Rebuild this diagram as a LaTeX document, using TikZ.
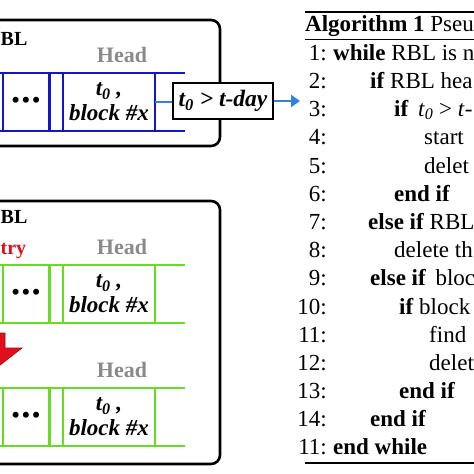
\documentclass[tikz,border=0pt]{standalone}
\usepackage{fontspec}
\setmainfont{Liberation Serif}
\usetikzlibrary{arrows.meta}
\definecolor{qblue}{HTML}{1414C8}
\definecolor{qgreen}{HTML}{66DD22}
\definecolor{qgray}{HTML}{8A8A8A}
\definecolor{qred}{HTML}{E0101A}
\definecolor{abluel}{HTML}{3380E0}
\newcommand\algf{\fontsize{23}{26}\selectfont}
\newcommand\qrow[3]{%
  \begin{scope}[shift={(0,#2)}]
    \draw[line width=2.6pt,draw=#1] (-10,0) -- (185,0) (-10,58) -- (185,58);
    \draw[line width=2.6pt,draw=#1] (3,0)--(3,58) (49.5,0)--(49.5,58) (63,0)--(63,58) (155,0)--(155,58);
    \node[dotsn] (#3d) at (26,29) {•\hspace{2.5pt}•\hspace{2.5pt}•};
    \node[cellt] (#3t) at (109,29) {t\textsubscript{0} ,\\block \#x};
    \node[headt] (#3h) at (122,-18) {Head};
    \coordinate (#3r) at (155,29);
  \end{scope}}
\tikzset{
  panel/.style={draw=black,line width=2.6pt,rounded corners=9pt},
  dotsn/.style={inner sep=0pt,font=\fontsize{22}{22}\selectfont\bfseries},
  cellt/.style={inner sep=0pt,align=center,font=\fontsize{23}{25}\selectfont\bfseries\itshape},
  headt/.style={inner sep=0pt,text=qgray,font=\fontsize{22}{24}\selectfont\bfseries},
  lbl/.style={inner sep=0pt,anchor=west,font=\fontsize{20}{22}\selectfont\bfseries},
  alg/.style={anchor=base west,inner sep=0pt,font=\algf},
  num/.style={anchor=base east,inner sep=0pt,font=\algf},
  conn/.style={draw=abluel,line width=2pt},
  barrow/.style={draw=abluel,line width=2.6pt,-{Triangle[length=9pt,width=12pt]}},
}
\begin{document}
\begin{tikzpicture}[x=1pt,y=-1pt]
\useasboundingbox (0,0) rectangle (474,474);
\clip (0,0) rectangle (474,474);
% panels
\draw[panel] (-20,20) rectangle (220,146);
\draw[panel] (-20,201) rectangle (220,464);
\node[lbl] (rbl1) at (0.5,39) {BL};
\node[lbl] (rbl2) at (0.5,217) {BL};
\node[lbl,text=qred,font=\fontsize{20}{22}\selectfont\bfseries] (entry) at (0.5,251) {try};
% rows
\qrow{qblue}{73}{ra}
\qrow{qgreen}{265}{rb}
\qrow{qgreen}{388}{rc}
% red down arrow
\fill[qred,draw=qred!70!black,line width=0.6pt] (-25,333) -- (5,333) -- (5,348) -- (22,348) -- (-10,373) -- (-42,348) -- (-25,348) -- cycle;
% condition box
\node[draw=black,line width=2pt,fill=white,minimum width=100pt,minimum height=36pt,inner sep=0pt,
      font=\fontsize{23.5}{25}\selectfont\bfseries\itshape] (cond) at (223,101) {t\textsubscript{0} > t-day};
\draw[conn] (rar) -- (rar -| cond.west);
\coordinate (atip) at (300,101);
\draw[barrow] (cond.east) -- (atip);
% algorithm
\coordinate (r1a) at (305,12);
\coordinate (r1b) at (480,12);
\draw[line width=2pt] (r1a) -- (r1b);
\node[alg] (ahead) at (305,31) {\textbf{Algorithm 1} Pseu};
\coordinate (r2a) at (305,39);
\coordinate (r2b) at (480,39);
\draw[line width=1pt] (r2a) -- (r2b);
\coordinate (r3a) at (305,463);
\coordinate (r3b) at (480,463);
\draw[line width=2pt] (r3a) -- (r3b);
% lines (baseline = center + 7)
\node[num] (n1) at (327,60) {1:};   \node[alg] (l1) at (333,60) {\textbf{while} RBL is n};
\node[num] (n2) at (327,88) {2:};   \node[alg] (l2) at (370,88) {\textbf{if} RBL hea};
\node[num] (n3) at (327,116) {3:};  \node[alg] (l3) at (394,116) {\textbf{if}\, \textit{t}\textsubscript{\textit{0}} > \textit{t}-};
\node[num] (n4) at (327,144) {4:};  \node[alg] (l4) at (424,144) {start};
\node[num] (n5) at (327,173) {5:};  \node[alg] (l5) at (424,173) {delet};
\node[num] (n6) at (327,201) {6:};  \node[alg] (l6) at (394,201) {\textbf{end if}};
\node[num] (n7) at (327,229) {7:};  \node[alg] (l7) at (368,229) {\textbf{else if} RBL};
\node[num] (n8) at (327,257) {8:};  \node[alg] (l8) at (394,257) {delete th};
\node[num] (n9) at (327,285) {9:};  \node[alg] (l9) at (370,285) {\textbf{else if}\, bloc};
\node[num] (n10) at (327,314) {10:}; \node[alg] (l10) at (399,314) {\textbf{if} block};
\node[num] (n11) at (327,342) {11:}; \node[alg] (l11) at (429,342) {find};
\node[num] (n12) at (327,370) {12:}; \node[alg] (l12) at (429,370) {delet};
\node[num] (n13) at (327,398) {13:}; \node[alg] (l13) at (399,398) {\textbf{end if}};
\node[num] (n14) at (327,426) {14:}; \node[alg] (l14) at (370,426) {\textbf{end if}};
\node[num] (n15) at (327,454) {11:}; \node[alg] (l15) at (333,454) {\textbf{end while}};
\end{tikzpicture}
\end{document}
